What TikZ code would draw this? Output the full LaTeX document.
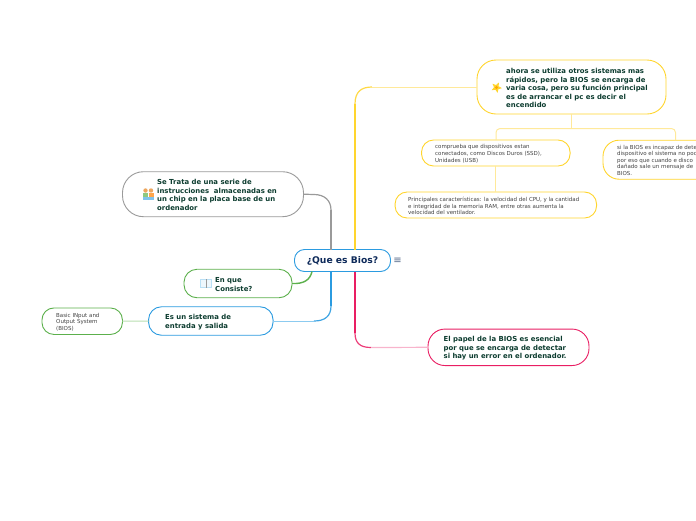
\documentclass[tikz,border=0pt]{standalone}
\usepackage{fontspec}
\setmainfont{DejaVu Sans}
\usetikzlibrary{shapes.geometric, positioning}
\definecolor{mapyellow}{HTML}{FFD52E}
\definecolor{paleyellow}{HTML}{FFE99A}
\definecolor{mapblue}{HTML}{2B9BE0}
\definecolor{paleblue}{HTML}{8CCBF0}
\definecolor{mappink}{HTML}{E91E63}
\definecolor{palepink}{HTML}{F8B4CC}
\definecolor{mapgreen}{HTML}{5CB04C}
\definecolor{palegreen}{HTML}{B9DEB0}
\definecolor{mapgrey}{HTML}{9A9A9A}
\definecolor{darkgreen}{HTML}{0C3C2F}
\definecolor{navy}{HTML}{0E2A5A}
\definecolor{smallgrey}{HTML}{444444}
\tikzstyle{mapbox} = [draw, fill=white, line width=0.9, inner sep=0, outer sep=0]
\tikzstyle{boldtext} = [inner sep=0, anchor=west, align=left, text=darkgreen, font=\fontsize{6.9}{8.6}\selectfont\bfseries]
\tikzstyle{smalltext} = [inner sep=0, anchor=west, align=left, text=smallgrey, font=\fontsize{5.5}{6.6}\selectfont]

\begin{document}
\begin{tikzpicture}[x=1pt, y=-1pt]

   \useasboundingbox (0,0) rectangle (696,520);
   \clip (0,0) rectangle (696,520);

   % Draw the boxes
   \node[mapbox, draw=mapblue, minimum width=96, minimum height=22, rounded corners=10] (queBios) at (342.5,260.5) {};
   \node[mapbox, draw=mapyellow, minimum width=189, minimum height=54, rounded corners=19] (mainBox) at (571.5,87) {};
   \node[mapbox, draw=mapyellow, minimum width=148.5, minimum height=26, rounded corners=12] (checkBox) at (495.8,153) {};
   \node[mapbox, draw=mapyellow, minimum width=160, minimum height=39, rounded corners=16] (errorBox) at (683,159.7) {};
   \node[mapbox, draw=mapyellow, minimum width=201.5, minimum height=26, rounded corners=12] (featureBox) at (495.8,205) {};
   \node[mapbox, draw=mapgrey, minimum width=181, minimum height=45, rounded corners=21] (seriesBox) at (213,194.2) {};
   \node[mapbox, draw=mapgreen, minimum width=108, minimum height=28.5, rounded corners=13] (consistBox) at (238,283.5) {};
   \node[mapbox, draw=mapblue, minimum width=124.5, minimum height=28.5, rounded corners=13] (systemBox) at (210.8,321) {};
   \node[mapbox, draw=mapgreen, minimum width=80.5, minimum height=26.5, rounded corners=12] (basicBox) at (82.2,321.2) {};
   \node[mapbox, draw=mappink, minimum width=161, minimum height=36.5, rounded corners=17] (roleBox) at (508.5,347.3) {};

   % Add the texts
   \node[inner sep=0, text=navy, font=\fontsize{9.2}{10}\selectfont\bfseries] (queText) at (342.5,261.2) {¿Que es Bios?};
   \node[boldtext] (mainText) at (506,88.2) {ahora se utiliza otros sistemas mas\\rápidos, pero la BIOS se encarga de\\varia cosa, pero su función principal\\es de arrancar el pc es decir el\\encendido};
   \node[smalltext] (checkText) at (435,153.8) {comprueba que dispositivos estan\\conectados, como Discos Duros (SSD),\\Unidades (USB)};
   \node[smalltext] (errorText) at (617,160.2) {si la BIOS es incapaz de dete\\dispositivo el sistema no pod\\por eso que cuando e disco\\dañado sale un mensaje de\\BIOS.};
   \node[smalltext] (featureText) at (408,206) {Principales características: la velocidad del CPU, y la cantidad\\e integridad de la memoria RAM, entre otras aumenta la\\velocidad del ventilador.};
   \node[boldtext] (seriesText) at (157,195) {Se Trata de una serie de\\instrucciones\ \ almacenadas en\\un chip en la placa base de un\\ordenador};
   \node[boldtext] (consistText) at (215,284.5) {En que\\Consiste?};
   \node[boldtext] (systemText) at (165,322) {Es un sistema de\\entrada y salida};
   \node[smalltext] (basicText) at (56,322) {Basic INput and\\Output System\\(BIOS)};
   \node[boldtext] (roleText) at (443.5,348.5) {El papel de la BIOS es esencial\\por que se encarga de detectar\\si hay un error en el ordenador.};
   \node[inner sep=0, text=navy!70, font=\fontsize{10}{10}\selectfont] (menuMark) at (397.5,261) {≡};

   % Draw the trunks, with a thin end towards each box
   \coordinate (yellowBend) at (355,104);
   \coordinate (greyBend) at (331,210);
   \coordinate (blueBend) at (331,306);
   \coordinate (pinkBend) at (355,333);
   \coordinate (greenStart) at (312,272);

   \draw[mapyellow, line width=2.8] (queBios.north -| yellowBend) -- (yellowBend);
   \draw[mapyellow!80!paleyellow, line width=1.2] (yellowBend) .. controls (355,92) and (361,87) .. (372,87);
   \draw[paleyellow, line width=1] (372,87) -- (mainBox.west);
   \draw[mapgrey, line width=2.8] (queBios.north -| greyBend) -- (greyBend);
   \draw[mapgrey, line width=1.2] (greyBend) .. controls (331,200) and (324,194.5) .. (314,194.5) -- (seriesBox.east);
   \draw[mapblue, line width=2.8] (queBios.south -| blueBend) -- (blueBend);
   \draw[mapblue!80!paleblue, line width=1.2] (blueBend) .. controls (331,316) and (325,321) .. (314,321);
   \draw[paleblue, line width=1] (314,321) -- (systemBox.east);
   \draw[mappink, line width=2.8] (queBios.south -| pinkBend) -- (pinkBend);
   \draw[mappink!80!palepink, line width=1.2] (pinkBend) .. controls (355,343) and (360,347.5) .. (371,347.5);
   \draw[palepink, line width=1.2] (371,347.5) -- (roleBox.west);
   \draw[mapgreen, line width=1.4] (queBios.south -| greenStart) .. controls (310,280) and (304,284) .. (consistBox.east);

   % Draw the thin branches
   \draw[palegreen, line width=1] (basicBox.east) -- (systemBox.west);
   \coordinate (forkLeft) at (496,128.5);
   \coordinate (forkRight) at (675.5,128.5);
   \draw[paleyellow, line width=1] (mainBox.south) -- (mainBox.south |- forkLeft);
   \draw[paleyellow, line width=1, rounded corners=4] (checkBox.north -| forkLeft) -- (forkLeft) -- (forkRight) -- (errorBox.north -| forkRight);
   \draw[paleyellow, line width=1.2] (checkBox.south) -- (featureBox.north);

   % Add the icons
   \node[star, star points=5, star point ratio=2.2, fill=mapyellow, inner sep=0, minimum size=11, rotate=-25] (starIcon) at (496.5,87.5) {};
   \fill[orange!70!yellow] (starIcon) circle (1.6);
   \fill[orange!60!brown!70] (145.5,190.5) circle (2.2);
   \fill[orange!60!brown!70] (151,190.5) circle (2.2);
   \fill[mapgreen!70] (143,193) rectangle (148,197);
   \fill[orange!70] (149,193) rectangle (154,197);
   \fill[mapblue!60] (143,197) rectangle (154,200);
   \fill[paleblue!60] (200,279) rectangle (212,288);
   \fill[white!85!paleblue] (201,280) rectangle (205.6,287);
   \fill[white!85!paleblue] (206.4,280) rectangle (211,287);
   \draw[mapgrey, line width=0.4] (206,279) -- (206,288);

\end{tikzpicture}
\end{document}
